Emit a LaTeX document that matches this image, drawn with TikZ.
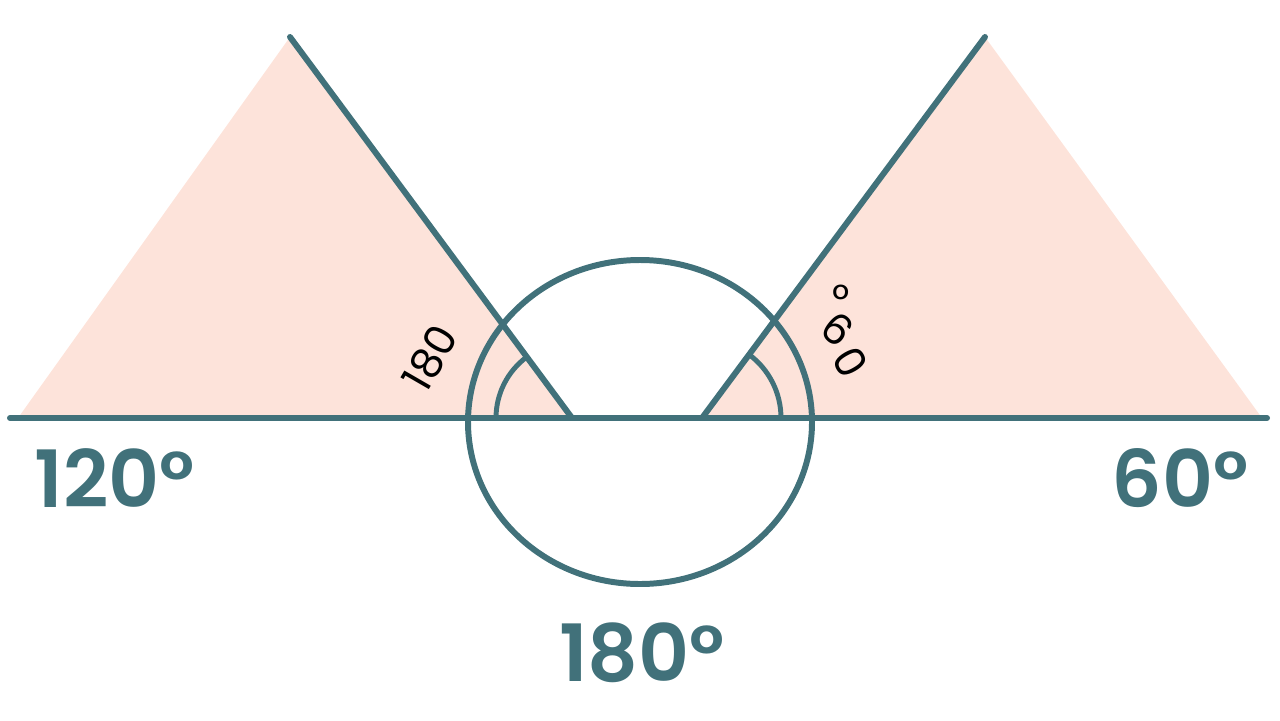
\documentclass[tikz,border=0pt]{standalone}
\usepackage{fontspec}
\newfontfamily\lblfont{Poppins}[BoldFont={Poppins SemiBold}]
\usetikzlibrary{positioning}
\definecolor{teal}{HTML}{41717A}
\definecolor{peach}{HTML}{FDE3DA}

\begin{document}
\begin{tikzpicture}[x = 0.02cm, y = -0.02cm]
\tikzstyle{stroke} = [draw = teal, line width = 3.4pt, line cap = round]
\tikzstyle{arcline} = [draw = teal, line width = 2.8pt]
\tikzstyle{big} = [text = teal, font = \lblfont\bfseries\fontsize{45}{45}\selectfont]
\tikzstyle{small} = [text = black, font = \lblfont\fontsize{24}{24}\selectfont]
\useasboundingbox (0,0) rectangle (1280,720);
  \coordinate (la) at (290,37);
  \coordinate (lb) at (18,418);
  \coordinate (lv) at (572,418);
  \coordinate (ra) at (985,37);
  \coordinate (rb) at (1262,418);
  \coordinate (rv) at (702,418);
  \coordinate (le) at (10,418);
  \coordinate (re) at (1267,418);
  \coordinate (c) at (640,422);
% shaded triangles
\fill[peach] (lb) -- (la) -- (lv) -- cycle;
\fill[peach] (rv) -- (ra) -- (rb) -- cycle;
% angle arcs
\draw[arcline] (lv) ++(180:76) arc[start angle = 180, end angle = 233.4, radius = 76];
\draw[arcline] (rv) ++(0:79) arc[start angle = 0, end angle = -53.3, radius = 79];
\draw[stroke] (c) ellipse [x radius = 172, y radius = 162];
\draw[stroke] (le) -- (re);
\draw[stroke] (la) -- (lv);
\draw[stroke] (ra) -- (rv);
% labels
  \node[big] (l120) at (115,478) {120°};
  \node[big] (l60) at (1180,478) {60°};
  \node[big] (l180) at (642,653) {180°};
  \node[small, rotate = 60] (s180) at (430,358) {180};
  \node[small, inner sep = 0pt] (s60) at (838,333) {\shortstack{\hspace{4pt}°\\[-6pt]\rotatebox{-40}{6}\\[-7pt]\hspace{14pt}\rotatebox{-60}{0}}};
\end{tikzpicture}
\end{document}
